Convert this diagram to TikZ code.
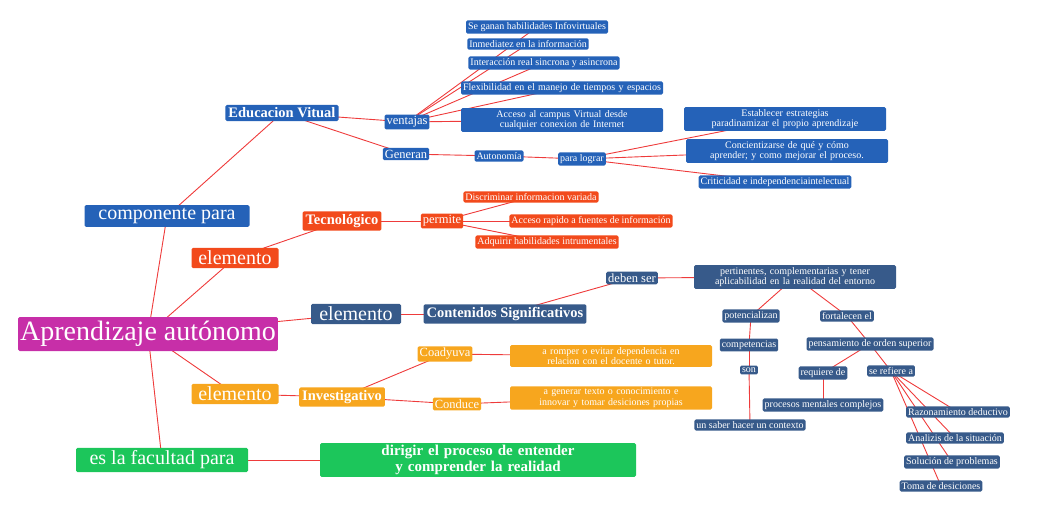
\documentclass[tikz,border=0pt]{standalone}
\usepackage{fontspec}
\setmainfont{Liberation Serif}
\usetikzlibrary{backgrounds}
\definecolor{cblue}{HTML}{2562B8}
\definecolor{cslate}{HTML}{375A8A}
\definecolor{cred}{HTML}{F24A1C}
\definecolor{corange}{HTML}{F7A61E}
\definecolor{cmag}{HTML}{C72FA8}
\definecolor{cgreen}{HTML}{1CC65B}
\definecolor{cline}{HTML}{EE3B3B}
\hyphenpenalty=10000
\exhyphenpenalty=10000
\begin{document}
\begin{tikzpicture}[x=1pt,y=-1pt]
    \tikzset{box/.style = {draw=none,text=white,rounded corners=1.5pt,inner sep=2pt,align=center,font=\fontsize{10}{10.5}\selectfont}}
    \tikzset{bl/.style = {box,fill=cblue}}
    \tikzset{sl/.style = {box,fill=cslate}}
    \tikzset{rd/.style = {box,fill=cred}}
    \tikzset{og/.style = {box,fill=corange}}
    \tikzset{lbl/.style = {font=\fontsize{12.5}{13}\selectfont}}
    \tikzset{big/.style = {font=\fontsize{20}{22}\selectfont,inner sep=3pt}}
    \tikzset{mid/.style = {font=\bfseries\fontsize{14.5}{15}\selectfont,inner sep=3pt}}
    \tikzset{edge/.style = {draw=cline,line width=0.9pt}}
    \useasboundingbox (0,0) rectangle (1038,514);
    % main
    \node[box,fill=cmag,font=\fontsize{28}{30}\selectfont,minimum width=253,minimum height=34] (aut) at (148,334) {Aprendizaje autónomo};
    \node[bl,big,minimum width=165] (comp) at (167,216) {componente para};
    \node[rd,big,minimum width=87] (el1) at (235,258) {elemento};
    \node[sl,big,minimum width=90] (el2) at (356,314) {elemento};
    \node[og,big,minimum width=87] (el3) at (235,394) {elemento};
    \node[box,fill=cgreen,big,minimum width=172] (fac) at (162,460) {es la facultad para};
    % educacion virtual
    \node[bl,mid] (edu) at (282,113) {Educacion Vitual};
    \node[bl,lbl] (vent) at (407,122) {ventajas};
    \node[bl,lbl] (gen) at (406,154) {Generan};
    \node[bl] (v1) at (537,27) {Se ganan habilidades Infovirtuales};
    \node[bl] (v2) at (528,44) {Inmediatez en la información};
    \node[bl] (v3) at (544,63) {Interacción real sincrona y asincrona};
    \node[bl,text width=198] (v4) at (562,88) {Flexibilidad en el manejo de tiempos y espacios};
    \node[bl,text width=198] (v5) at (562,120) {Acceso al campus Virtual desde cualquier conexion de Internet};
    \node[bl] (auto) at (499,156) {Autonomía};
    \node[bl] (lograr) at (582,159) {para lograr};
    \node[bl,text width=198] (g1) at (785,119) {Establecer estrategias paradinamizar el propio aprendizaje};
    \node[bl,text width=198] (g2) at (787,151) {Concientizarse de qué y cómo aprender; y como mejorar el proceso.};
    \node[bl] (g3) at (775,182) {Criticidad e independenciaintelectual};
    % tecnologico
    \node[rd,mid] (tec) at (342,221) {Tecnológico};
    \node[rd,lbl] (perm) at (442,221) {permite};
    \node[rd] (t1) at (531,197) {Discriminar informacion variada};
    \node[rd] (t2) at (591,221) {Acceso rapido a fuentes de información};
    \node[rd] (t3) at (547,242) {Adquirir habilidades intrumentales};
    % contenidos
    \node[sl,mid] (cont) at (505,314) {Contenidos Significativos};
    \node[sl,lbl] (deben) at (632,278) {deben ser};
    \node[sl,text width=198] (pert) at (795,277) {pertinentes, complementarias y tener aplicabilidad en la realidad del entorno};
    \node[sl] (pot) at (751,316) {potencializan};
    \node[sl] (compt) at (749,345) {competencias};
    \node[sl] (son) at (749,370) {son};
    \node[sl] (saber) at (750,425) {un saber hacer un contexto};
    \node[sl] (fort) at (847,316) {fortalecen el};
    \node[sl] (pens) at (870,344) {pensamiento de orden superior};
    \node[sl] (req) at (823,373) {requiere de};
    \node[sl] (ref) at (891,371) {se refiere a};
    \node[sl] (proc) at (823,405) {procesos mentales complejos};
    \node[sl] (r1) at (958,412) {Razonamiento deductivo};
    \node[sl] (r2) at (955,438) {Analizis de la situación};
    \node[sl] (r3) at (952,462) {Solución de problemas};
    \node[sl] (r4) at (941,486) {Toma de desiciones};
    % investigativo
    \node[og,mid] (inv) at (342,397) {Investigativo};
    \node[og,lbl] (coad) at (445,354) {Coadyuva};
    \node[og,lbl] (cond) at (457,404) {Conduce};
    \node[og,text width=198] (i1) at (611,356) {a romper o evitar dependencia en relacion con el docente o tutor.};
    \node[og,text width=198] (i2) at (611,398) {a generar texto o conocimiento e innovar y tomar desiciones propias};
    % facultad
    \node[box,fill=cgreen,font=\bfseries\fontsize{15}{16}\selectfont,text width=312] (dir) at (478,460) {dirigir el proceso de entender y comprender la realidad};

    %edges
    \begin{scope}[on background layer]
    \foreach \a/\b in {aut/comp,aut/el1,aut/el2,aut/el3,aut/fac,comp/edu,edu/vent,edu/gen,
        vent/v1,vent/v2,vent/v3,vent/v4,vent/v5,gen/auto,auto/lograr,lograr/g1,lograr/g2,lograr/g3,
        el1/tec,tec/perm,perm/t1,perm/t2,perm/t3,el2/cont,cont/deben,deben/pert,pert/pot,pot/compt,
        compt/son,son/saber,pert/fort,fort/pens,pens/req,req/proc,pens/ref,ref/r1,ref/r2,ref/r3,ref/r4,
        el3/inv,inv/coad,coad/i1,inv/cond,cond/i2,fac/dir}
        \draw[edge] (\a.center) -- (\b.center);
    \end{scope}
\end{tikzpicture}
\end{document}
